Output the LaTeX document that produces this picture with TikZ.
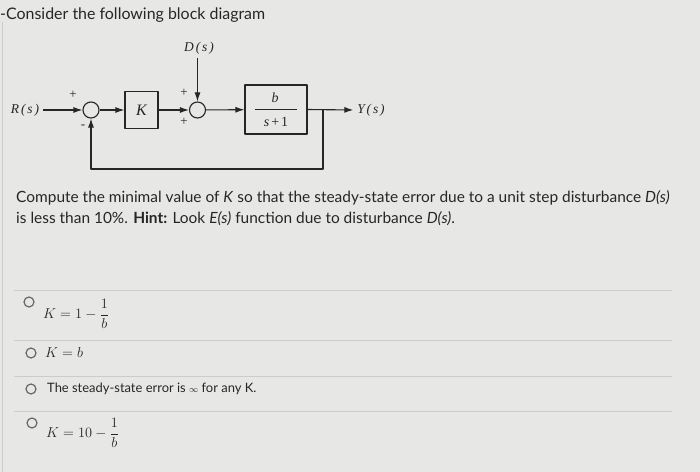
\documentclass[tikz,border=0pt]{standalone}
\usepackage{fontspec}
\setmainfont{Lato}
\newfontfamily\blockfont[LetterSpace=14]{Liberation Serif}
\usetikzlibrary{arrows.meta}
\definecolor{paper}{RGB}{231,231,229}
\definecolor{ink}{RGB}{38,38,38}
\definecolor{rulegrey}{RGB}{204,204,202}
\definecolor{radiogrey}{RGB}{105,105,105}
\begin{document}
\begin{tikzpicture}[>={Latex[length=9bp,width=6bp]},line join=bevel,x=1bp,y=-1bp,
  blk/.style={draw=ink,line width=1.1bp,inner sep=0pt,text=ink},
  sumnode/.style={circle,draw=ink,line width=1.1bp,minimum size=16bp,inner sep=0pt},
  lbl/.style={text=ink,inner sep=0pt,outer sep=4bp,font=\blockfont\itshape\fontsize{13.5}{15}\selectfont},
  sgn/.style={text=ink,inner sep=0pt,font=\blockfont\fontsize{13}{14}\selectfont},
  sig/.style={draw=ink,line width=1.1bp,->},
  txt/.style={text=ink,inner sep=0pt,anchor=west,font=\fontsize{15.5}{21}\selectfont},
  radio/.style={circle,draw=radiogrey,line width=1.2bp,minimum size=10bp,inner sep=0pt},
  sep/.style={draw=rulegrey,line width=0.8bp},
]
%%
\fill [paper] (0,0) rectangle (700,472);
\useasboundingbox (0,0) rectangle (700,472);
\draw [rulegrey] (2.5,22) -- (2.5,472);
%
\node (title) at (0,15) [txt,font=\fontsize{16}{18}\selectfont] {-Consider the following block diagram};
%
\node (r_in) at (25,110) [lbl] {R(s)};
  \node (sum_1) at (91,110) [sumnode] {};
  \node (blk_k) at (141.5,110) [blk,minimum width=33bp,minimum height=37bp,font=\blockfont\itshape\fontsize{16}{18}\selectfont] {K};
  \node (sum_2) at (197.5,110) [sumnode] {};
  \node (blk_g) at (276,109.5) [blk,minimum width=62bp,minimum height=49bp,align=center,font=\blockfont\fontsize{14}{15}\selectfont] {\textit{b}\\[-7.5bp]\rule{42bp}{1bp}\\[1.5bp]\textit{s}+1};
  \coordinate (branch) at (323,110);
  \node (y_out) at (371,110) [lbl] {Y(s)};
  \node (d_in) at (199,48) [lbl] {D(s)};
  \coordinate (d_top) at (197.5,58);
  \coordinate (fb_r) at (323,169);
  \coordinate (fb_l) at (91,169);
%
\node (plus_1) at (73,95) [sgn] {+};
  \node (minus_1) at (83,127) [sgn] {-};
  \node (plus_2a) at (184,93) [sgn] {+};
  \node (plus_2b) at (184,122) [sgn] {+};
%
\draw [sig] (r_in) -- (sum_1);
  \draw [sig] (sum_1) -- (blk_k);
  \draw [sig] (blk_k) -- (sum_2);
  \draw [sig] (sum_2) -- (blk_g);
  \draw [sig] (blk_g.east) -- (y_out.west);
  \draw [sig] (d_top) -- (sum_2);
  \draw [sig] (branch) -- (fb_r) -- (fb_l) -- (sum_1);
%
\node (question) at (16,208) [txt,align=left] {Compute the minimal value of \textit{K} so that the steady-state error due to a unit step disturbance \textit{D(s)}\\is less than 10\%. \textbf{Hint:} Look \textit{E(s)} function due to disturbance \textit{D(s)}.};
%
\foreach \ry in {290,340,376,411} \draw [sep] (14,\ry) -- (672,\ry);
%
\node (radio_a) at (29,302) [radio] {};
  \node (opt_a) at (43,314) [txt,font=\fontsize{14}{16}\selectfont] {$K = 1 - \displaystyle\frac{1}{b}$};
  \node (radio_b) at (31,353) [radio] {};
  \node (opt_b) at (45,353) [txt,font=\fontsize{14}{16}\selectfont] {$K = b$};
  \node (radio_c) at (31,389) [radio] {};
  \node (opt_c) at (47,389) [txt,font=\fontsize{13}{16}\selectfont] {The steady-state error is {\small$\infty$} for any K.};
  \node (radio_d) at (32,423) [radio] {};
  \node (opt_d) at (46,433) [txt,font=\fontsize{14}{16}\selectfont] {$K = 10 - \displaystyle\frac{1}{b}$};
%
\end{tikzpicture}
\end{document}
